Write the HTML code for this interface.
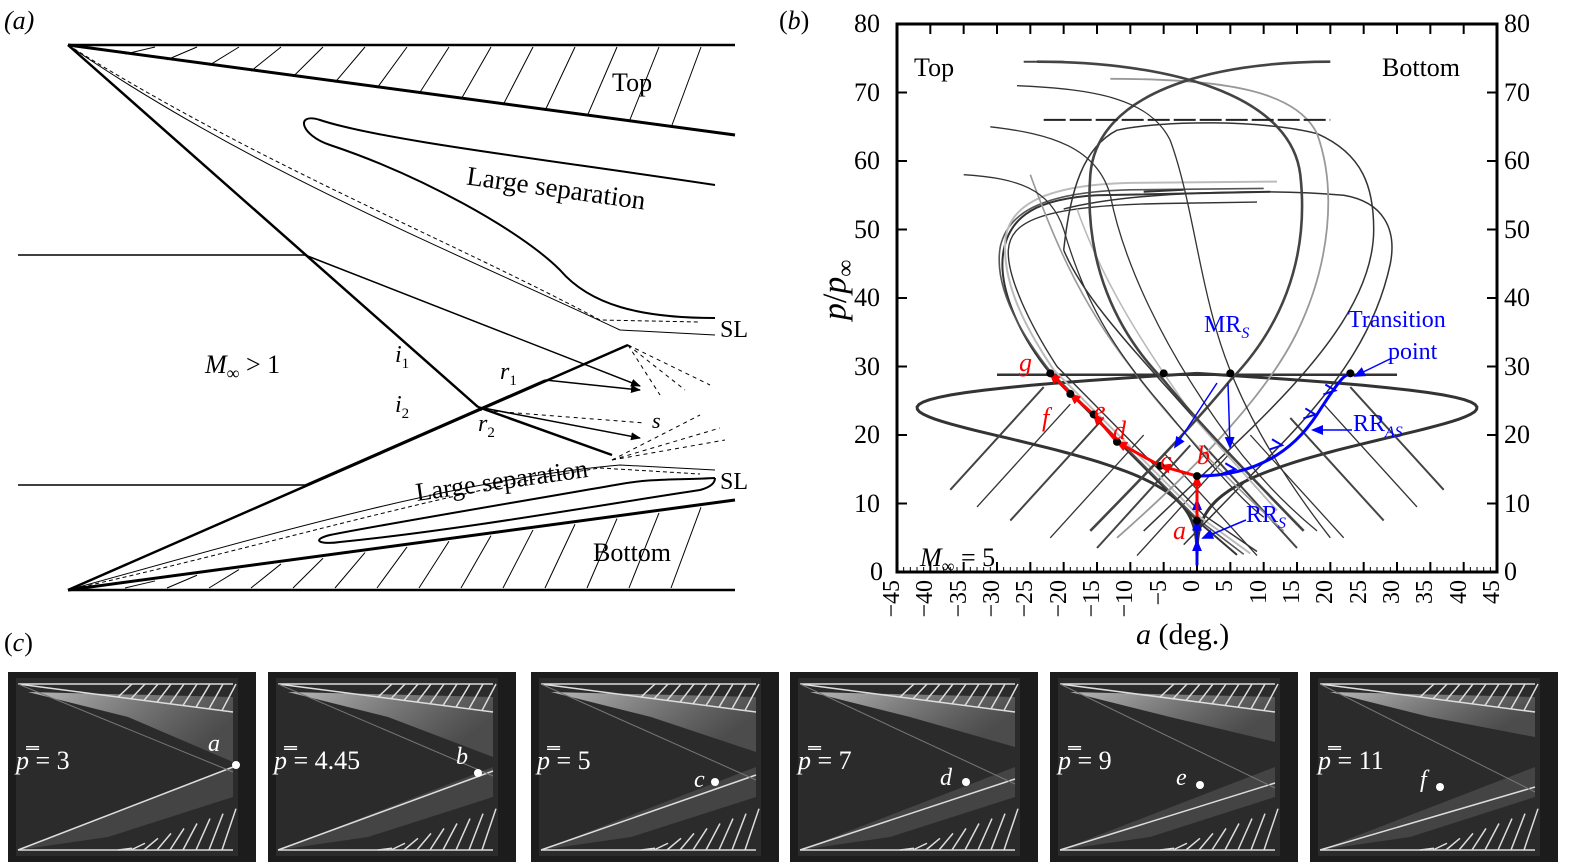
<!DOCTYPE html>
<html><head><meta charset="utf-8"><style>
html,body{margin:0;padding:0;background:#fff;width:1571px;height:867px;overflow:hidden;}
body{position:relative;font-family:"Liberation Serif",serif;}
.t{position:absolute;white-space:nowrap;line-height:1;}
svg{position:absolute;left:0;top:0;}
</style></head><body>
<svg id="s" width="1571" height="867" viewBox="0 0 1571 867">
<defs>
<marker id="ar" markerWidth="10" markerHeight="8" refX="9" refY="4" orient="auto" markerUnits="userSpaceOnUse"><path d="M0,0 L10,4 L0,8 z" fill="#000"/></marker>
<marker id="arR" markerWidth="12" markerHeight="10" refX="10" refY="5" orient="auto" markerUnits="userSpaceOnUse"><path d="M0,0 L12,5 L0,10 z" fill="#f00"/></marker>
<marker id="arB" markerWidth="12" markerHeight="10" refX="10" refY="5" orient="auto" markerUnits="userSpaceOnUse"><path d="M0,0 L12,5 L0,10 z" fill="#00f"/></marker>
<linearGradient id="gl" x1="0" y1="0" x2="1" y2="0.4"><stop offset="0" stop-color="#ddd" stop-opacity="0.8"/><stop offset="1" stop-color="#999" stop-opacity="0.3"/></linearGradient>
</defs>
<g stroke="#000" fill="none">
<line x1="68" y1="45" x2="735" y2="45" stroke-width="2.5"/>
<line x1="68" y1="45" x2="735" y2="135" stroke-width="3"/>
<line x1="68" y1="590" x2="735" y2="590" stroke-width="2.5"/>
<line x1="68" y1="590" x2="735" y2="500" stroke-width="3"/>
<g id="hatch" stroke-width="1"></g>
<line x1="68" y1="45" x2="478" y2="407" stroke-width="2.5"/>
<line x1="68" y1="590" x2="628" y2="345" stroke-width="2.5"/>
<line x1="478" y1="407" x2="612" y2="455" stroke-width="2.5"/>
<path d="M68,45 C250,170 450,250 620,330 L715,335" stroke-width="1"/>
<path d="M68,45 C250,160 450,240 600,320 L700,322" stroke-width="1" stroke-dasharray="4,3"/>
<path d="M68,590 C250,540 450,480 620,465 L715,470" stroke-width="1"/>
<path d="M68,590 C250,550 450,490 600,468 L700,474" stroke-width="1" stroke-dasharray="4,3"/>
<path d="M715,185 C550,160 380,140 320,120 C295,112 300,135 330,145 C420,175 520,230 560,270 C590,305 640,318 715,318" stroke-width="2"/>
<path d="M715,478 C680,480 650,478 615,485 C500,505 380,525 330,535 C310,540 320,545 340,542 C460,530 600,505 700,490 C715,486 715,480 715,478" stroke-width="2"/>
<line x1="18" y1="255" x2="305" y2="255" stroke-width="1.5"/>
<line x1="305" y1="255" x2="640" y2="386" stroke-width="1.5" marker-end="url(#ar)"/>
<line x1="18" y1="485" x2="305" y2="485" stroke-width="1.5"/>
<line x1="305" y1="485" x2="545" y2="380" stroke-width="1.5"/>
<line x1="545" y1="380" x2="640" y2="390" stroke-width="1.5" marker-end="url(#ar)"/>
<line x1="478" y1="407" x2="640" y2="438" stroke-width="1.5" marker-end="url(#ar)"/>
<line x1="478" y1="410" x2="645" y2="423" stroke-width="1" stroke-dasharray="4,4"/>
<g stroke-width="1" stroke-dasharray="4,4">
<line x1="628" y1="345" x2="660" y2="395"/><line x1="628" y1="345" x2="685" y2="390"/><line x1="628" y1="345" x2="710" y2="385"/>
<line x1="612" y1="460" x2="700" y2="415"/><line x1="612" y1="460" x2="720" y2="428"/><line x1="612" y1="460" x2="725" y2="440"/>
</g>
</g>
<g id="chart"></g>
<g id="photos"></g>
</svg>
<div class="t" style="left:4px;top:8px;font-size:26px;font-style:italic">(<i>a</i>)</div>
<div class="t" style="left:612px;top:70px;font-size:26px">Top</div>
<div class="t" style="left:466px;top:175px;font-size:27px;transform:rotate(8deg)">Large separation</div>
<div class="t" style="left:720px;top:318px;font-size:24px">SL</div>
<div class="t" style="left:720px;top:470px;font-size:24px">SL</div>
<div class="t" style="left:415px;top:468px;font-size:26px;transform:rotate(-8deg)">Large separation</div>
<div class="t" style="left:593px;top:540px;font-size:26px">Bottom</div>
<div class="t" style="left:205px;top:352px;font-size:26px"><i>M</i><sub style="font-size:18px">∞</sub> &gt; 1</div>
<div class="t" style="left:395px;top:343px;font-size:24px"><i>i</i><sub style="font-size:15px">1</sub></div>
<div class="t" style="left:395px;top:393px;font-size:24px"><i>i</i><sub style="font-size:15px">2</sub></div>
<div class="t" style="left:500px;top:360px;font-size:24px"><i>r</i><sub style="font-size:15px">1</sub></div>
<div class="t" style="left:478px;top:412px;font-size:24px"><i>r</i><sub style="font-size:15px">2</sub></div>
<div class="t" style="left:652px;top:410px;font-size:22px;font-style:italic">s</div>
<div class="t" style="left:779px;top:8px;font-size:26px">(<i>b</i>)</div>
<div class="t" style="left:914px;top:55px;font-size:26px">Top</div>
<div class="t" style="left:1382px;top:55px;font-size:26px">Bottom</div>
<div class="t" style="left:920px;top:545px;font-size:26px"><i>M</i><sub style="font-size:18px">∞</sub> = 5</div>
<div class="t" style="left:808px;top:270px;font-size:34px;transform:rotate(-90deg);transform-origin:50% 50%"><i>p</i>/<i>p</i><sub style="font-size:24px">∞</sub></div>
<div class="t" style="left:1136px;top:620px;font-size:30px"><i>a</i> (deg.)</div>
<div class="t" style="left:1204px;top:313px;font-size:24px;color:#00f">MR<sub style="font-size:16px;font-style:italic">S</sub></div>
<div class="t" style="left:1348px;top:308px;font-size:24px;color:#00f">Transition</div>
<div class="t" style="left:1388px;top:340px;font-size:24px;color:#00f">point</div>
<div class="t" style="left:1353px;top:412px;font-size:24px;color:#00f">RR<sub style="font-size:16px;font-style:italic">AS</sub></div>
<div class="t" style="left:1246px;top:503px;font-size:24px;color:#00f">RR<sub style="font-size:16px;font-style:italic">S</sub></div>
<div class="t" style="left:1173px;top:518px;font-size:26px;color:#f00;font-style:italic">a</div>
<div class="t" style="left:1197px;top:443px;font-size:26px;color:#f00;font-style:italic">b</div>
<div class="t" style="left:1160px;top:448px;font-size:26px;color:#f00;font-style:italic">c</div>
<div class="t" style="left:1113px;top:418px;font-size:26px;color:#f00;font-style:italic">d</div>
<div class="t" style="left:1094px;top:398px;font-size:26px;color:#f00;font-style:italic">e</div>
<div class="t" style="left:1042px;top:405px;font-size:26px;color:#f00;font-style:italic">f</div>
<div class="t" style="left:1019px;top:350px;font-size:26px;color:#f00;font-style:italic">g</div>
<div class="t" style="left:4px;top:630px;font-size:26px">(<i>c</i>)</div>
<div id="ticks"></div>
<div class="t" style="left:16px;top:748px;font-size:26px;color:#fff"><i>p̿</i> = 3</div>
<div class="t" style="left:208px;top:732px;font-size:24px;color:#fff;font-style:italic">a</div>
<div class="t" style="left:274px;top:748px;font-size:26px;color:#fff"><i>p̿</i> = 4.45</div>
<div class="t" style="left:456px;top:745px;font-size:24px;color:#fff;font-style:italic">b</div>
<div class="t" style="left:537px;top:748px;font-size:26px;color:#fff"><i>p̿</i> = 5</div>
<div class="t" style="left:694px;top:768px;font-size:24px;color:#fff;font-style:italic">c</div>
<div class="t" style="left:798px;top:748px;font-size:26px;color:#fff"><i>p̿</i> = 7</div>
<div class="t" style="left:940px;top:766px;font-size:24px;color:#fff;font-style:italic">d</div>
<div class="t" style="left:1058px;top:748px;font-size:26px;color:#fff"><i>p̿</i> = 9</div>
<div class="t" style="left:1176px;top:766px;font-size:24px;color:#fff;font-style:italic">e</div>
<div class="t" style="left:1318px;top:748px;font-size:26px;color:#fff"><i>p̿</i> = 11</div>
<div class="t" style="left:1420px;top:768px;font-size:24px;color:#fff;font-style:italic">f</div>
<script>
var NS="http://www.w3.org/2000/svg";
function el(p,t,a){var e=document.createElementNS(NS,t);for(var k in a)e.setAttribute(k,a[k]);p.appendChild(e);return e;}
var h=document.getElementById('hatch');
for(var x=150;x<=720;x+=42){var yb=45+(x-68)*90/667;el(h,'line',{x1:x-25,y1:yb-2,x2:x+5,y2:47});}
for(var x=150;x<=720;x+=42){var yb=590-(x-68)*90/667;el(h,'line',{x1:x-25,y1:588,x2:x+5,y2:yb+2});}
var c=document.getElementById('chart');
function X(a){return 1197+6.667*a;} function Y(p){return 572-6.85*p;}
el(c,'rect',{x:897,y:24,width:600,height:548,fill:'none',stroke:'#000','stroke-width':3});
var tk=document.getElementById('ticks'),ht='';
for(var a=-45;a<=45;a+=5){el(c,'line',{x1:X(a),y1:572,x2:X(a),y2:562,stroke:'#000','stroke-width':2});el(c,'line',{x1:X(a),y1:24,x2:X(a),y2:34,stroke:'#000','stroke-width':2});
 ht+='<div class="t" style="left:'+(X(a)-40)+'px;top:603px;width:70px;text-align:right;font-size:24px;transform:rotate(-90deg);transform-origin:50% 50%">'+(a<0?'\u2212'+(-a):a)+'</div>';}
for(var a=-45;a<45;a+=1){el(c,'line',{x1:X(a),y1:572,x2:X(a),y2:567,stroke:'#000','stroke-width':1});}
for(var p=0;p<=80;p+=10){el(c,'line',{x1:897,y1:Y(p),x2:907,y2:Y(p),stroke:'#000','stroke-width':2});el(c,'line',{x1:1487,y1:Y(p),x2:1497,y2:Y(p),stroke:'#000','stroke-width':2});
 ht+='<div class="t" style="left:'+(p==0?870:854)+'px;top:'+(Y(p)-13)+'px;font-size:26px">'+p+'</div>';
 ht+='<div class="t" style="left:1504px;top:'+(Y(p)-13)+'px;font-size:26px">'+p+'</div>';}
tk.innerHTML=ht;
function g(t,k){return Math.sin(Math.PI*Math.pow(t,k));}
function loop(ac,p0,W,P,col,w,side,k){var d='';for(var i=0;i<=80;i++){var t=i/80;var a=ac+side*W*g(t,k),p=p0+(P-p0)*t;d+=(i?'L':'M')+X(a).toFixed(1)+','+Y(p).toFixed(1);}el(c,'path',{d:d,fill:'none',stroke:col,'stroke-width':w});}
// path in data coords
function D(s,col,w,dash){var d=s.replace(/(-?[\d.]+),(-?[\d.]+)/g,function(m,a,p){return X(+a).toFixed(1)+','+Y(+p).toFixed(1);});var o={d:d,fill:'none',stroke:col,'stroke-width':w};if(dash)o['stroke-dasharray']=dash;el(c,'path',o);}
loop(0,1,42,29,'#333',3,-1,3.5);loop(0,1,42,29,'#333',3,1,3.5);
D('M-30,28.8 L30,28.8','#333',2.5);
// lattice lines (lower region)
var Lb=[[-37,12],[-33,9.5],[-28,7.5],[-22,5],[-15,3.5],[-9,2.4]];
Lb.forEach(function(b,i){var w=i%2?1.3:2,col=i%2?'#333':'#444';D('M'+b[0]+','+b[1]+' L'+(b[0]+14)+','+(b[1]+15),col,w);D('M'+(-b[0])+','+b[1]+' L'+(-b[0]-14)+','+(b[1]+15),col,w);});
// left cluster (through a, g)
D('M6,2.5 L0,7.5 L-22,29 C-27,35 -30,42 -29,47 C-28,52 -24,54.5 -15,55 L11,55.5','#333',2);
D('M7,2.6 L0,7.8 L-22,29.3 C-27,35.5 -30.5,42 -29.5,47.5 C-28.5,52 -24,55.5 -10,55.8 L10,56','#555',1.6);
D('M8,2.7 L0.5,8 L-21.5,29.5 C-26,36 -29,42 -28.8,48 C-28.5,53 -24,56.5 -10,56.8 L12,57','#bbb',2);
D('M9,3 L1,8.3 L-21,30 C-25,36 -28.5,43 -28.3,47 C-28,51 -24,53.5 -5,53.8 L9,54','#333',1.4);
// big thin loop right side
D('M-20,53 C-10,55.5 10,56 22,55 C28,54 30,50 29,45 C27,36 22,28 12,18 C7,13 3,9 -2,4','#333',1.5);
// loop top 66
D('M-20,47 C-19,56 -17,62 -12,64.5 C-5,66 10,66 18,64 C25,61 26.5,56 26.5,50 C26.5,40 18,30 5,18 L-8,6','#333',1.5);
D('M-20,47 C-17,40 -10,33 0,22 L12,9','#333',1.5);
// grey loop
D('M-13,72 C5,72 15,70 18,64 C21,56 20,45 15,35 C11,27 2,17 -12,5','#999',1.8);
D('M-25,58 C-22,50 -18,40 -10,30 C-4,22 4,14 13,6','#999',1.6);
D('M-18,53 C-14,42 -8,33 0,22 L12,9','#bbb',1.6);
// thick crossing
D('M-24,74.5 C-5,74.5 14,70 15.5,58 C17,45 12,35 5,28 C0,22 -8,14 -16,6','#444',2.6);
D('M20,74.5 C2,74.5 -15,70 -16,58 C-17,45 -12,35 -5,28 C0,22 8,14 16,6','#444',2.6);
// thin curves from top-left arcs
D('M-27,71 C-15,70.5 -7,69 -4,63 C-1,55 0,45 3,35 C6,25 12,15 20,5','#333',1.3);
D('M-31,65 C-22,64 -15,62 -13,55 C-11,45 -5,33 3,22 C8,15 13,10 18,6','#333',1.3);
D('M-35,58 C-27,57.5 -22,56 -20,50 C-17,40 -13,33 -5,24 C1,17 6,11 10,8','#333',1.3);
D('M-23,66 L20,66','#222',2,'22,4');
D('M-26,74.5 L-20,74.5','#444',2);
D('M-8,55.5 L-2,55.8','#333',2);
// arrows
function seg(a1,p1,a2,p2,m,col,w){el(c,'line',{x1:X(a1),y1:Y(p1),x2:X(a2),y2:Y(p2),stroke:col,'stroke-width':w||3,'marker-end':'url(#'+m+')'});}
seg(0,1,0,4.5,'arB','#00f',2.5);seg(0,4.5,0,7.5,'arB','#00f',2.5);
seg(0,7.5,0,10.5,'arB','#00f',2.5);seg(0,7.5,0,14,'arR','#f00',3);
seg(0,14,-5.5,15.5,'arR','#f00');seg(-5.5,15.5,-12,19,'arR','#f00');seg(-12,19,-15.5,23,'arR','#f00');seg(-15.5,23,-19,26,'arR','#f00');seg(-19,26,-22,29,'arR','#f00');
el(c,'path',{d:'M'+X(0)+','+Y(14)+' C'+X(8)+','+Y(14)+' '+X(14)+','+Y(17)+' '+X(18)+','+Y(23)+' S'+X(22)+','+Y(28.5)+' '+X(23)+','+Y(29),fill:'none',stroke:'#00f','stroke-width':3});
[[5,15],[12,18.5],[17,23],[20,26.5]].forEach(function(q){el(c,'path',{d:'M'+(X(q[0])-7)+','+(Y(q[1])+4)+' L'+(X(q[0])+5)+','+Y(q[1])+' L'+(X(q[0])-5)+','+(Y(q[1])-6),fill:'none',stroke:'#00f','stroke-width':2});});
function bl(x1,y1,x2,y2){el(c,'line',{x1:x1,y1:y1,x2:x2,y2:y2,stroke:'#00f','stroke-width':1.5,'marker-end':'url(#arB)'});}
bl(1217,383,1175,447);bl(1228,383,1230,447);bl(1392,358,1355,376);bl(1352,430,1313,430);bl(1246,520,1203,538);
[[0,7.5],[0,14],[-5.5,15.5],[-12,19],[-15.5,23],[-19,26],[-22,29],[-5,29],[5,29],[23,29]].forEach(function(q){el(c,'circle',{cx:X(q[0]),cy:Y(q[1]),r:4,fill:'#000'});});
var ph=document.getElementById('photos');
[8,268,531,790,1050,1310].forEach(function(x0,i){var w=248,y0=672,H=190;
 el(ph,'rect',{x:x0,y:y0,width:w,height:H,fill:'#1c1c1c'});
 el(ph,'rect',{x:x0+8,y:y0+6,width:w-26,height:H-12,fill:'#2b2b2b'});
 el(ph,'polygon',{points:(x0+20)+','+(y0+20)+' '+(x0+225)+','+(y0+25)+' '+(x0+225)+','+(y0+90-i*5)+' '+(x0+120)+','+(y0+45),fill:'url(#gl)'});
 el(ph,'polygon',{points:(x0+10)+','+(y0+178)+' '+(x0+225)+','+(y0+95)+' '+(x0+225)+','+(y0+125)+' '+(x0+100)+','+(y0+165),fill:'#555','fill-opacity':0.6});
 var s={stroke:'#ddd','stroke-width':1.5};
 el(ph,'line',Object.assign({x1:x0+10,y1:y0+12,x2:x0+225,y2:y0+12},s));
 el(ph,'line',Object.assign({x1:x0+10,y1:y0+12,x2:x0+225,y2:y0+40},s));
 el(ph,'line',Object.assign({x1:x0+10,y1:y0+178,x2:x0+225,y2:y0+178},s));
 el(ph,'line',Object.assign({x1:x0+10,y1:y0+178,x2:x0+225,y2:y0+95+i*4},s));
 el(ph,'line',{x1:x0+10,y1:y0+12,x2:x0+225,y2:y0+100+i*4,stroke:'#777','stroke-width':1});
 for(var k=0;k<9;k++){var xx=x0+110+k*13;el(ph,'line',Object.assign({x1:xx,y1:y0+12+(xx-x0-10)*28/215,x2:xx+14,y2:y0+12},s));
  el(ph,'line',Object.assign({x1:xx,y1:y0+178,x2:xx+14,y2:y0+178-(xx-x0)*0.38+40},s));}
 var dx=[228,210,184,176,150,130][i],dy=[93,101,110,110,113,115][i];
 el(ph,'circle',{cx:x0+dx,cy:y0+dy,r:4,fill:'#fff'});
});
</script>
</body></html>
